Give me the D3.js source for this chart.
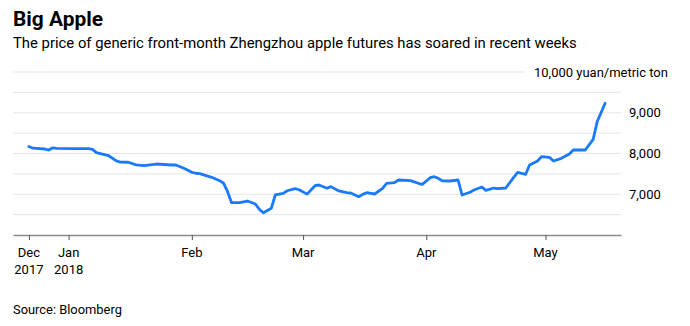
<!DOCTYPE html>
<html>
<head>
<meta charset="utf-8">
<script src="https://cdn.jsdelivr.net/npm/d3@7"></script>
<style>
  html, body { margin: 0; padding: 0; background: #fff; }
  svg { display: block; font-family: Roboto, "Noto Sans", sans-serif; }
</style>
</head>
<body>
<svg id="chart" width="690" height="326"></svg>
<script>
// ---- data ----
const dates = [
  "2017-12-22","2017-12-23","2017-12-26","2017-12-27","2017-12-28","2017-12-29",
  "2018-01-02","2018-01-04","2018-01-06","2018-01-07","2018-01-08","2018-01-11",
  "2018-01-13","2018-01-14","2018-01-16","2018-01-18","2018-01-20","2018-01-23",
  "2018-01-27","2018-01-28","2018-01-30","2018-02-01","2018-02-02","2018-02-03",
  "2018-02-06","2018-02-08","2018-02-09","2018-02-10","2018-02-11","2018-02-13",
  "2018-02-15","2018-02-17","2018-02-18","2018-02-19","2018-02-21","2018-02-22",
  "2018-02-24","2018-02-25","2018-02-27","2018-02-28","2018-03-02","2018-03-04",
  "2018-03-05","2018-03-07","2018-03-08","2018-03-10","2018-03-12","2018-03-13",
  "2018-03-15","2018-03-16","2018-03-17","2018-03-19","2018-03-21","2018-03-22",
  "2018-03-24","2018-03-25","2018-03-28","2018-03-30","2018-03-31","2018-04-02",
  "2018-04-03","2018-04-04","2018-04-05","2018-04-07","2018-04-09","2018-04-10",
  "2018-04-12","2018-04-13","2018-04-15","2018-04-16","2018-04-18","2018-04-19",
  "2018-04-21","2018-04-23","2018-04-24","2018-04-26","2018-04-27","2018-04-29",
  "2018-04-30","2018-05-02","2018-05-03","2018-05-05","2018-05-07","2018-05-08",
  "2018-05-11","2018-05-13","2018-05-14","2018-05-16"
];
const prices = [
  8170,8130,8110,8085,8140,8128,
  8120,8120,8118,8100,8020,7950,
  7820,7790,7785,7720,7700,7742,
  7718,7718,7637,7539,7515,7505,
  7416,7333,7269,7063,6793,6793,
  6834,6760,6630,6547,6655,6982,
  7023,7086,7137,7110,7003,7210,
  7227,7146,7187,7080,7038,7031,
  6940,6998,7038,7006,7146,7269,
  7284,7350,7333,7269,7244,7406,
  7431,7391,7330,7325,7350,6982,
  7048,7104,7178,7096,7153,7137,
  7153,7415,7539,7489,7718,7816,
  7922,7906,7816,7881,7988,8086,
  8086,8348,8780,9232
];
const yGridValues = [6500, 7000, 7500, 8000, 8500, 9000, 9500, 10000];
const yLabelValues = [7000, 8000, 9000];
const yTopLabel = "10,000 yuan/metric ton";
const xTickDates = ["2017-12-22","2018-01-01","2018-02-01","2018-03-01","2018-04-01","2018-05-01"];
const xTickMonths = ["Dec","Jan","Feb","Mar","Apr","May"];
const xTickYears = ["2017","2018","","","",""];
const xDomainDates = ["2017-12-18","2018-05-20"];
const yDomain = [6000, 10000];

const title = "Big Apple";
const subtitle = "The price of generic front-month Zhengzhou apple futures has soared in recent weeks";
const source = "Source: Bloomberg";

// ---- drawing ----
const parse = d3.timeParse("%Y-%m-%d");
const data = dates.map((d, i) => ({ date: parse(d), value: prices[i] }));

const svg = d3.select("#chart");
const x = d3.scaleTime().domain(xDomainDates.map(parse)).range([13, 621]);
const y = d3.scaleLinear().domain(yDomain).range([235, 72]);

function fitText(sel, width) {
  const n = sel.node();
  const fs = parseFloat(sel.attr("font-size"));
  const w = n.getComputedTextLength();
  if (w > 0) sel.attr("font-size", (fs * width / w).toFixed(2));
}

// title / subtitle
fitText(svg.append("text").attr("x", 13).attr("y", 26)
  .attr("font-size", 18).attr("font-weight", 700).attr("fill", "#000").text(title), 90);
fitText(svg.append("text").attr("x", 13).attr("y", 47.5)
  .attr("font-size", 14).attr("fill", "#000").text(subtitle), 564);

// gridlines
const topLabelX = 534;
svg.append("g").selectAll("line").data(yGridValues).join("line")
  .attr("x1", x.range()[0])
  .attr("x2", d => d === yDomain[1] ? topLabelX - 9 : x.range()[1])
  .attr("y1", d => y(d)).attr("y2", d => y(d))
  .attr("stroke", "#e6e6e6").attr("stroke-width", 1);

// y labels
svg.append("g").selectAll("text").data(yLabelValues).join("text")
  .attr("x", 629).attr("y", d => y(d)).attr("dy", "0.35em")
  .attr("font-size", 13).attr("fill", "#000")
  .text(d => d3.format(",")(d));
fitText(svg.append("text").attr("x", topLabelX).attr("y", y(yDomain[1])).attr("dy", "0.35em")
  .attr("font-size", 13).attr("fill", "#000").text(yTopLabel), 134);

// x axis
const xAxis = d3.axisBottom(x)
  .tickValues(xTickDates.map(parse))
  .tickSize(5)
  .tickSizeOuter(0)
  .tickFormat(() => "");
const gx = svg.append("g").attr("transform", `translate(0,${y(yDomain[0])})`).call(xAxis);
gx.select(".domain").attr("stroke", "#8c8c8c").attr("stroke-width", 1.6);
gx.selectAll(".tick line").attr("stroke", "#555").attr("stroke-width", 1);

const tl = svg.append("g").selectAll("g").data(xTickDates).join("g")
  .attr("transform", d => `translate(${x(parse(d))},0)`);
tl.append("text").attr("y", 257).attr("text-anchor", "middle")
  .attr("font-size", 13).attr("fill", "#000").text((d, i) => xTickMonths[i]);
tl.append("text").attr("y", 274).attr("text-anchor", "middle")
  .attr("font-size", 13).attr("fill", "#000").text((d, i) => xTickYears[i]);

// line
const line = d3.line().x(d => x(d.date)).y(d => y(d.value)).curve(d3.curveLinear);
svg.append("path").datum(data)
  .attr("d", line)
  .attr("fill", "none")
  .attr("stroke", "#1a7aff")
  .attr("stroke-width", 2.8)
  .attr("stroke-linejoin", "round")
  .attr("stroke-linecap", "round");

// source
fitText(svg.append("text").attr("x", 13).attr("y", 314)
  .attr("font-size", 13).attr("fill", "#000").text(source), 109);
</script>
</body>
</html>
